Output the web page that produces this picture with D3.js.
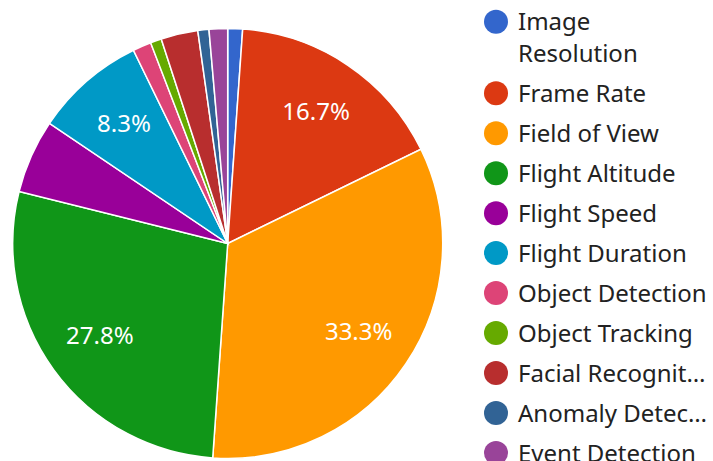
<!DOCTYPE html>
<html>
<head>
<meta charset="utf-8">
<script src="https://cdn.jsdelivr.net/npm/d3@7"></script>
<style>
  body { margin: 0; background: #fff; }
  text { font-family: "Noto Sans", sans-serif; }
</style>
</head>
<body>
<div id="chart"></div>
<script>
// slice names, in drawing order (clockwise from 12 o'clock)
var categories = ['Image Resolution', 'Frame Rate', 'Field of View', 'Flight Altitude',
  'Flight Speed', 'Flight Duration', 'Object Detection', 'Object Tracking',
  'Facial Recognition', 'Anomaly Detection', 'Event Detection'];
// values
var values = [0.4, 6, 12, 10, 2, 3, 0.5, 0.3, 1, 0.3, 0.5];
var colors = ['#3366cc', '#dc3912', '#ff9900', '#109618', '#990099', '#0099c6',
  '#dd4477', '#66aa00', '#b82e2e', '#316395', '#994499'];

var width = 713, height = 461;
var cx = 227.7, cy = 243.5, radius = 215;
var fontSize = '24px';

var svg = d3.select('#chart').append('svg')
  .attr('width', width)
  .attr('height', height);

var total = d3.sum(values);
var pie = d3.pie().sort(null).value(function(d) { return d; });
var arcs = pie(values);

var arc = d3.arc().innerRadius(0).outerRadius(radius);

var g = svg.append('g').attr('transform', `translate(${cx},${cy})`);

g.selectAll('.slice')
  .data(arcs)
  .enter()
  .append('path')
  .attr('class', 'slice')
  .attr('d', arc)
  .attr('fill', function(d, i) { return colors[i]; })
  .attr('stroke', '#fff')
  .attr('stroke-width', 1.5);

// percent labels only on the slices big enough to hold them
var fmt = d3.format('.1%');
var labelArc = d3.arc().innerRadius(158).outerRadius(158);
g.selectAll('.pct')
  .data(arcs.filter(function(d) { return d.value / total > 0.06; }))
  .enter()
  .append('text')
  .attr('class', 'pct')
  .attr('transform', function(d) { return `translate(${labelArc.centroid(d)})`; })
  .attr('text-anchor', 'middle')
  .attr('dy', '0.33em')
  .attr('fill', '#fff')
  .style('font-size', fontSize)
  .text(function(d) { return fmt(d.value / total); });

// legend
var legendX = 496, textX = 518, maxW = 193;
var rowY = [21.7, 93.3, 133.3, 173.3, 213.3, 253, 293, 333, 373, 413, 453];

var rows = svg.selectAll('.legend')
  .data(categories)
  .enter()
  .append('g')
  .attr('class', 'legend')
  .attr('transform', function(d, i) { return `translate(0,${rowY[i]})`; });

rows.append('circle')
  .attr('cx', legendX)
  .attr('cy', 0)
  .attr('r', 12)
  .attr('fill', function(d, i) { return colors[i]; });

rows.each(function(name, i) {
  var row = d3.select(this);
  if (i == 0) {
    // this one wraps onto two lines
    row.append('text').attr('x', textX).attr('y', 8.5)
      .attr('fill', '#222').style('font-size', fontSize).text('Image');
    row.append('text').attr('x', textX).attr('y', 40.5)
      .attr('fill', '#222').style('font-size', fontSize).text('Resolution');
    return;
  }
  var t = row.append('text')
    .attr('x', textX)
    .attr('y', 8.5)
    .attr('fill', '#222')
    .style('font-size', fontSize)
    .text(name);
  var s = name;
  while (t.node().getComputedTextLength() > maxW && s.length > 1) {
    s = s.slice(0, -1);
    t.text(s + '…');
  }
});
</script>
</body>
</html>
